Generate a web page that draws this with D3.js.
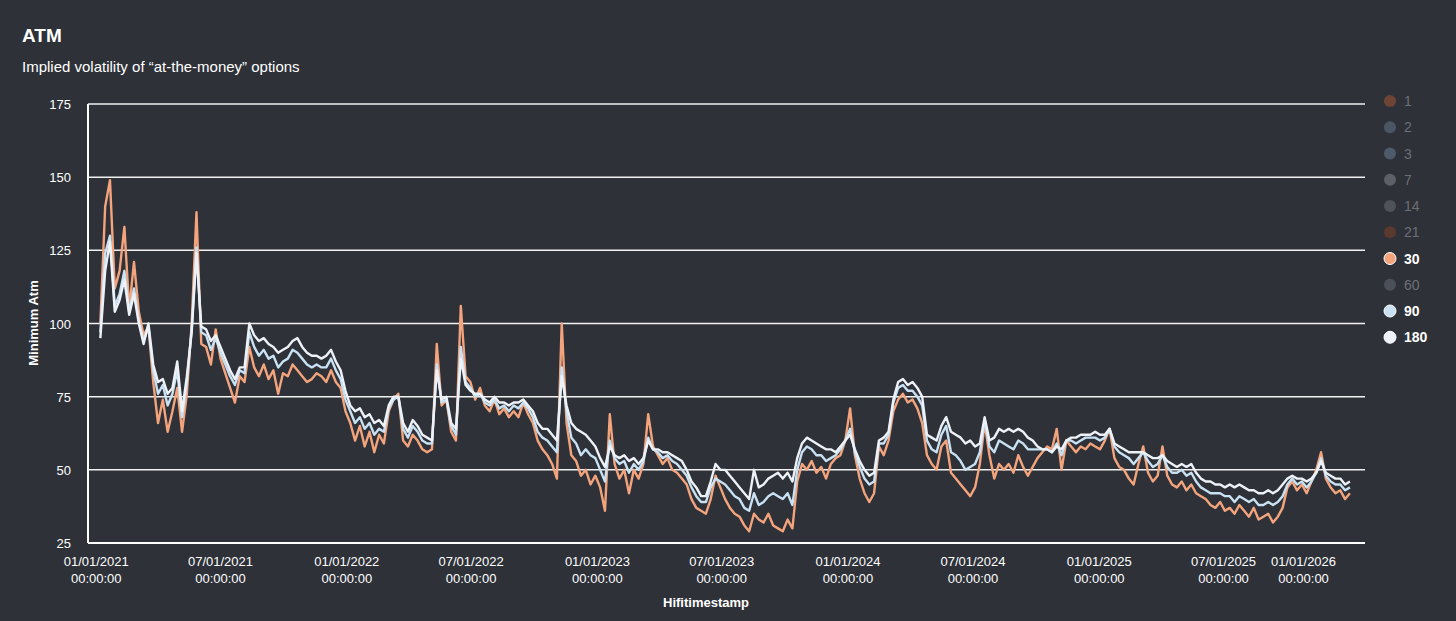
<!DOCTYPE html>
<html>
<head>
<meta charset="utf-8">
<script src="https://cdn.jsdelivr.net/npm/d3@7"></script>
<style>
  html, body { margin: 0; padding: 0; background: #2e3138; }
  svg { display: block; font-family: "Liberation Sans", Arial, sans-serif; }
</style>
</head>
<body>
<svg id="chart" width="1456" height="621"></svg>
<script>
// weekly samples, starting 2021-01-07
const startDate = new Date(2021, 0, 7);
const stepDays = 7;

const atm30 = [100,140,149,112,118,133,105,121,104,96,99,80,66,74,63,70,78,63,76,100,
  138,93,92,86,98,88,83,78,73,82,80,92,85,82,86,81,84,76,83,82,
  86,84,82,80,81,83,82,80,84,80,78,70,66,60,65,58,63,56,62,59,
  70,74,76,60,58,62,60,57,56,57,93,72,74,63,60,106,82,80,74,78,
  72,70,74,69,71,68,70,68,73,69,66,60,57,55,52,47,100,66,55,53,
  48,50,45,48,44,36,69,52,47,50,42,50,47,52,69,58,55,52,54,50,
  49,47,45,40,37,36,35,40,48,44,40,37,35,34,31,29,35,33,32,35,
  31,30,29,33,30,46,52,50,53,49,51,47,52,54,55,60,71,55,47,42,
  39,42,58,55,60,70,74,76,73,74,71,66,55,52,50,58,60,49,47,45,
  43,41,44,52,66,55,47,52,50,52,49,55,51,48,51,54,56,58,57,64,
  50,60,58,56,58,57,59,58,57,60,64,54,51,50,47,45,52,58,49,46,
  48,58,48,45,44,46,43,45,42,41,40,38,37,39,36,37,35,38,36,34,
  37,33,34,35,32,34,37,44,46,43,45,42,46,50,56,47,44,42,43,40,42];

const atm90 = [97,124,130,106,110,118,104,112,101,94,99,84,76,79,72,76,84,68,80,98,
  126,97,96,91,95,90,86,82,79,84,83,97,92,89,91,88,89,85,87,88,
  91,90,88,86,85,86,85,85,88,84,81,74,70,66,68,64,66,62,64,63,
  71,74,75,64,61,65,63,60,59,59,86,73,74,65,62,92,80,78,75,76,
  73,72,74,71,72,70,72,71,73,71,68,63,61,60,58,56,85,70,61,59,
  55,57,55,54,50,46,60,54,52,53,49,52,50,53,61,57,56,54,55,53,
  52,50,48,44,41,39,39,44,47,46,45,43,41,40,37,36,42,38,39,41,
  42,41,40,42,38,50,56,58,57,55,55,53,54,55,57,60,64,56,51,47,
  45,46,59,59,62,73,78,79,77,77,75,72,60,57,56,62,65,56,55,53,
  50,51,52,56,67,58,56,60,59,58,57,60,59,57,57,57,57,57,56,59,
  55,60,60,59,60,61,61,61,60,61,64,58,56,55,54,52,54,56,53,51,
  52,55,51,49,49,50,48,49,46,44,43,42,42,42,41,41,39,41,40,39,
  40,38,38,39,38,39,41,45,47,45,46,44,46,49,54,48,46,45,45,43,44];

const atm180 = [95,118,128,104,108,115,103,110,100,93,100,86,80,81,76,78,87,70,82,97,
  124,99,98,94,96,92,88,84,81,85,85,100,96,94,95,93,92,90,91,92,
  94,95,92,90,89,89,88,89,91,87,84,77,72,70,71,68,69,66,67,65,
  72,75,75,66,63,67,65,62,61,60,84,74,75,66,64,88,79,77,76,76,
  74,73,75,73,73,72,73,73,74,72,70,66,64,64,62,60,82,72,66,64,
  63,62,60,58,54,51,58,55,54,55,53,54,52,54,60,57,57,56,56,55,
  54,53,50,46,44,41,41,46,52,50,50,48,46,44,42,40,50,44,45,47,
  48,49,47,49,46,54,59,61,60,59,58,57,57,56,58,60,62,57,53,50,
  48,49,60,61,63,74,80,81,79,80,78,75,62,61,60,65,68,63,62,61,
  59,60,58,59,68,60,61,64,63,64,63,64,63,61,60,58,57,57,56,58,
  57,60,61,61,62,62,62,63,62,62,64,59,58,57,56,56,56,56,55,54,
  54,55,53,52,51,52,51,52,49,47,46,46,45,45,44,45,44,45,44,43,
  43,42,42,43,42,43,45,47,48,47,47,46,47,49,53,49,48,47,47,45,46];

const yTicks = [25, 50, 75, 100, 125, 150, 175];

const legendKeys = ["1", "2", "3", "7", "14", "21", "30", "60", "90", "180"];
const legendColors = ["#6e4535", "#4b5665", "#4d5a6a", "#5d6067", "#4f5258", "#5a3a2f",
  "#f3a47c", "#4a515b", "#c8e1f3", "#edf2f8"];
const activeKeys = ["30", "90", "180"];

const seriesList = [
  { key: "30", values: atm30, color: "#f3a47c" },
  { key: "90", values: atm90, color: "#c8e1f3" },
  { key: "180", values: atm180, color: "#edf2f8" }
];

const svg = d3.select("#chart");
const plotLeft = 88, plotRight = 1365, plotTop = 104, plotBottom = 543;

const x = d3.scaleTime()
  .domain([new Date(2020, 11, 20), new Date(2026, 0, 23)])
  .range([plotLeft, plotRight]);
const y = d3.scaleLinear().domain([25, 175]).range([plotBottom, plotTop]);

// title
svg.append("text").attr("x", 22).attr("y", 42)
  .attr("fill", "#ffffff").style("font-size", "19px").style("font-weight", "bold")
  .text("ATM");
svg.append("text").attr("x", 22).attr("y", 72)
  .attr("fill", "#ffffff").style("font-size", "15px")
  .text("Implied volatility of “at-the-money” options");

// grid
svg.append("g").selectAll("line").data(yTicks).enter().append("line")
  .attr("x1", plotLeft).attr("x2", plotRight)
  .attr("y1", d => y(d)).attr("y2", d => y(d))
  .attr("stroke", "#f2f2f2").attr("stroke-width", 1.5);

// y labels
svg.append("g").selectAll("text").data(yTicks).enter().append("text")
  .attr("x", 71).attr("y", d => y(d) + 5)
  .attr("text-anchor", "end").attr("fill", "#ffffff").style("font-size", "13px")
  .text(d => d);

// axis lines
svg.append("line").attr("x1", plotLeft).attr("x2", plotLeft).attr("y1", plotTop).attr("y2", plotBottom)
  .attr("stroke", "#ffffff").attr("stroke-width", 2);
svg.append("line").attr("x1", plotLeft).attr("x2", plotRight).attr("y1", plotBottom).attr("y2", plotBottom)
  .attr("stroke", "#ffffff").attr("stroke-width", 2);

// x labels
const fmt = d3.timeFormat("%m/%d/%Y");
const xTicks = x.ticks(d3.timeMonth.every(6));
const xl = svg.append("g").selectAll("text").data(xTicks).enter().append("text")
  .attr("fill", "#ffffff").style("font-size", "13px").attr("text-anchor", "middle");
xl.append("tspan").attr("y", 566).text(d => fmt(d));
xl.append("tspan").attr("y", 583).text("00:00:00");
xl.each(function (d) {
  const w = this.getBBox().width;
  let cx = x(d);
  if (cx + w / 2 > plotRight) cx = plotRight - w / 2;
  d3.select(this).selectAll("tspan").attr("x", cx);
});

// axis titles
svg.append("text").attr("x", 706).attr("y", 607)
  .attr("text-anchor", "middle").attr("fill", "#ffffff")
  .style("font-size", "13px").style("font-weight", "bold").text("Hifitimestamp");
svg.append("text").attr("transform", "translate(38,323) rotate(-90)")
  .attr("text-anchor", "middle").attr("fill", "#ffffff")
  .style("font-size", "13px").style("font-weight", "bold").text("Minimum Atm");

// lines
const line = d3.line()
  .x((d, i) => x(d3.timeDay.offset(startDate, i * stepDays)))
  .y(d => y(d));

svg.append("g").selectAll("path").data(seriesList).enter().append("path")
  .attr("fill", "none")
  .attr("stroke", d => d.color)
  .attr("stroke-width", 2.4)
  .attr("stroke-linejoin", "round")
  .attr("d", d => line(d.values));

// legend
const lg = svg.append("g").selectAll("g").data(legendKeys).enter().append("g")
  .attr("transform", (d, i) => `translate(1390,${101 + i * 26.25})`);
lg.append("circle").attr("r", 6)
  .attr("fill", (d, i) => legendColors[i])
  .attr("stroke", d => activeKeys.includes(d) ? "#ffffff" : "none")
  .attr("stroke-width", 1);
lg.append("text").attr("x", 14).attr("y", 5)
  .attr("fill", d => activeKeys.includes(d) ? "#ffffff" : "#6c6f76")
  .style("font-size", "14px")
  .style("font-weight", d => activeKeys.includes(d) ? "bold" : "normal")
  .text(d => d);
</script>
</body>
</html>
